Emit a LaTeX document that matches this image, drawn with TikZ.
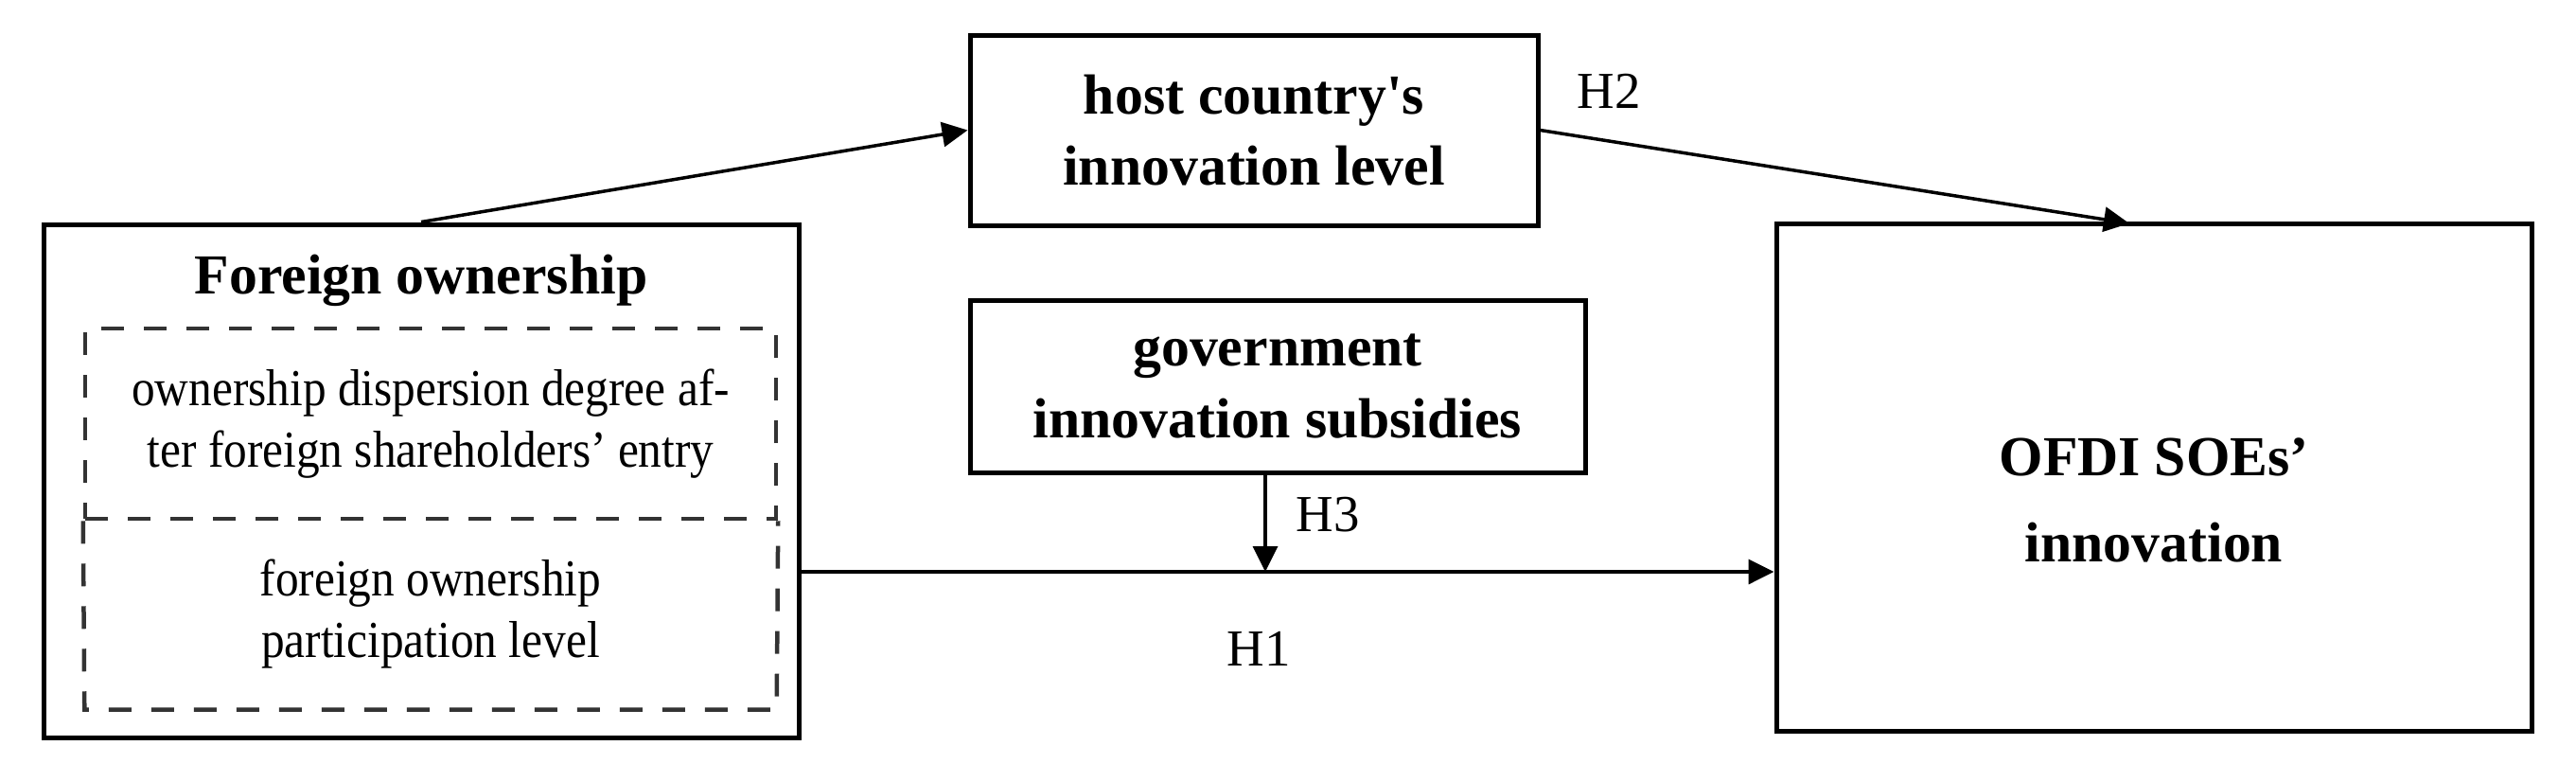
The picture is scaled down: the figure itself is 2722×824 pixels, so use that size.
\documentclass[tikz,border=0pt]{standalone}
\usepackage{fontspec}
\setmainfont{Liberation Serif}
\newfontfamily\narrowserif[FakeStretch=0.9]{Liberation Serif}
\usetikzlibrary{arrows.meta}

\tikzset{
  box/.style={draw=black, line width=0.5mm, inner sep=0pt, align=center,
    font=\bfseries\fontsize{17pt}{21.5pt}\selectfont},
  title/.style={inner sep=0pt, font=\bfseries\fontsize{17pt}{21.5pt}\selectfont},
  dashline/.style={draw=black!80, line width=0.45mm, dash pattern=on 2.4mm off 2.1mm},
  dashbox/.style={inner sep=0pt, align=center, font=\narrowserif\fontsize{15.6pt}{18.5pt}\selectfont},
  link/.style={draw=black, line width=0.35mm, -{Triangle[length=2.7mm,width=2.6mm]}},
  hlabel/.style={inner sep=0pt, font=\fontsize{15.6pt}{18pt}\selectfont}
}

\begin{document}
\begin{tikzpicture}[x=0.1mm, y=-0.1mm]
    \useasboundingbox (0,0) rectangle (2722,824);
    % boxes
    \node [box, minimum width=79.8mm, minimum height=54.2mm] (foreign) at (445,508) {};
    \node [title, anchor=base] (foreigntitle) at (445,310) {Foreign ownership};
    \node [dashbox, dashline, minimum width=73mm, minimum height=20.1mm] (dispersion) at (455,447.5)
        {ownership dispersion degree af-\\ter foreign shareholders’ entry};
    \node [dashbox, minimum width=73mm, minimum height=20.1mm] (participation) at (455,648.5)
        {foreign ownership\\participation level};
    \draw [dashline] (dispersion.south west) -- (participation.south west)
        -- (participation.south east) -- (dispersion.south east);
    \node [box, minimum width=60mm, minimum height=20.1mm] (host) at (1325,137.5)
        {host country\textquotesingle s\\innovation level};
    \node [box, minimum width=65mm, minimum height=18.2mm] (gov) at (1350,408)
        {government\\innovation subsidies};
    \node [box, minimum width=79.8mm, minimum height=53.6mm] (ofdi) at (2276,504) {};
    \node [title, align=center, font=\bfseries\fontsize{17pt}{25.9pt}\selectfont]
        (ofditext) at (2276,528) {OFDI SOEs’\\innovation};
    % connectors
    \coordinate (h2tip) at (2250,236);
    \coordinate (h1row) at (0,604);
    \coordinate (h3tip) at (1337,604);
    \draw [link] (foreign.north) -- (host.west);
    \draw [link] (host.east) -- (h2tip);
    \draw [link] (foreign.east |- h1row) -- (ofdi.west |- h1row);
    \draw [link] (gov.south -| h3tip) -- (h3tip);
    % labels
    \node [hlabel] (h2) at (1700,96) {H2};
    \node [hlabel] (h3) at (1403,544) {H3};
    \node [hlabel] (h1) at (1330,685) {H1};
\end{tikzpicture}
\end{document}
